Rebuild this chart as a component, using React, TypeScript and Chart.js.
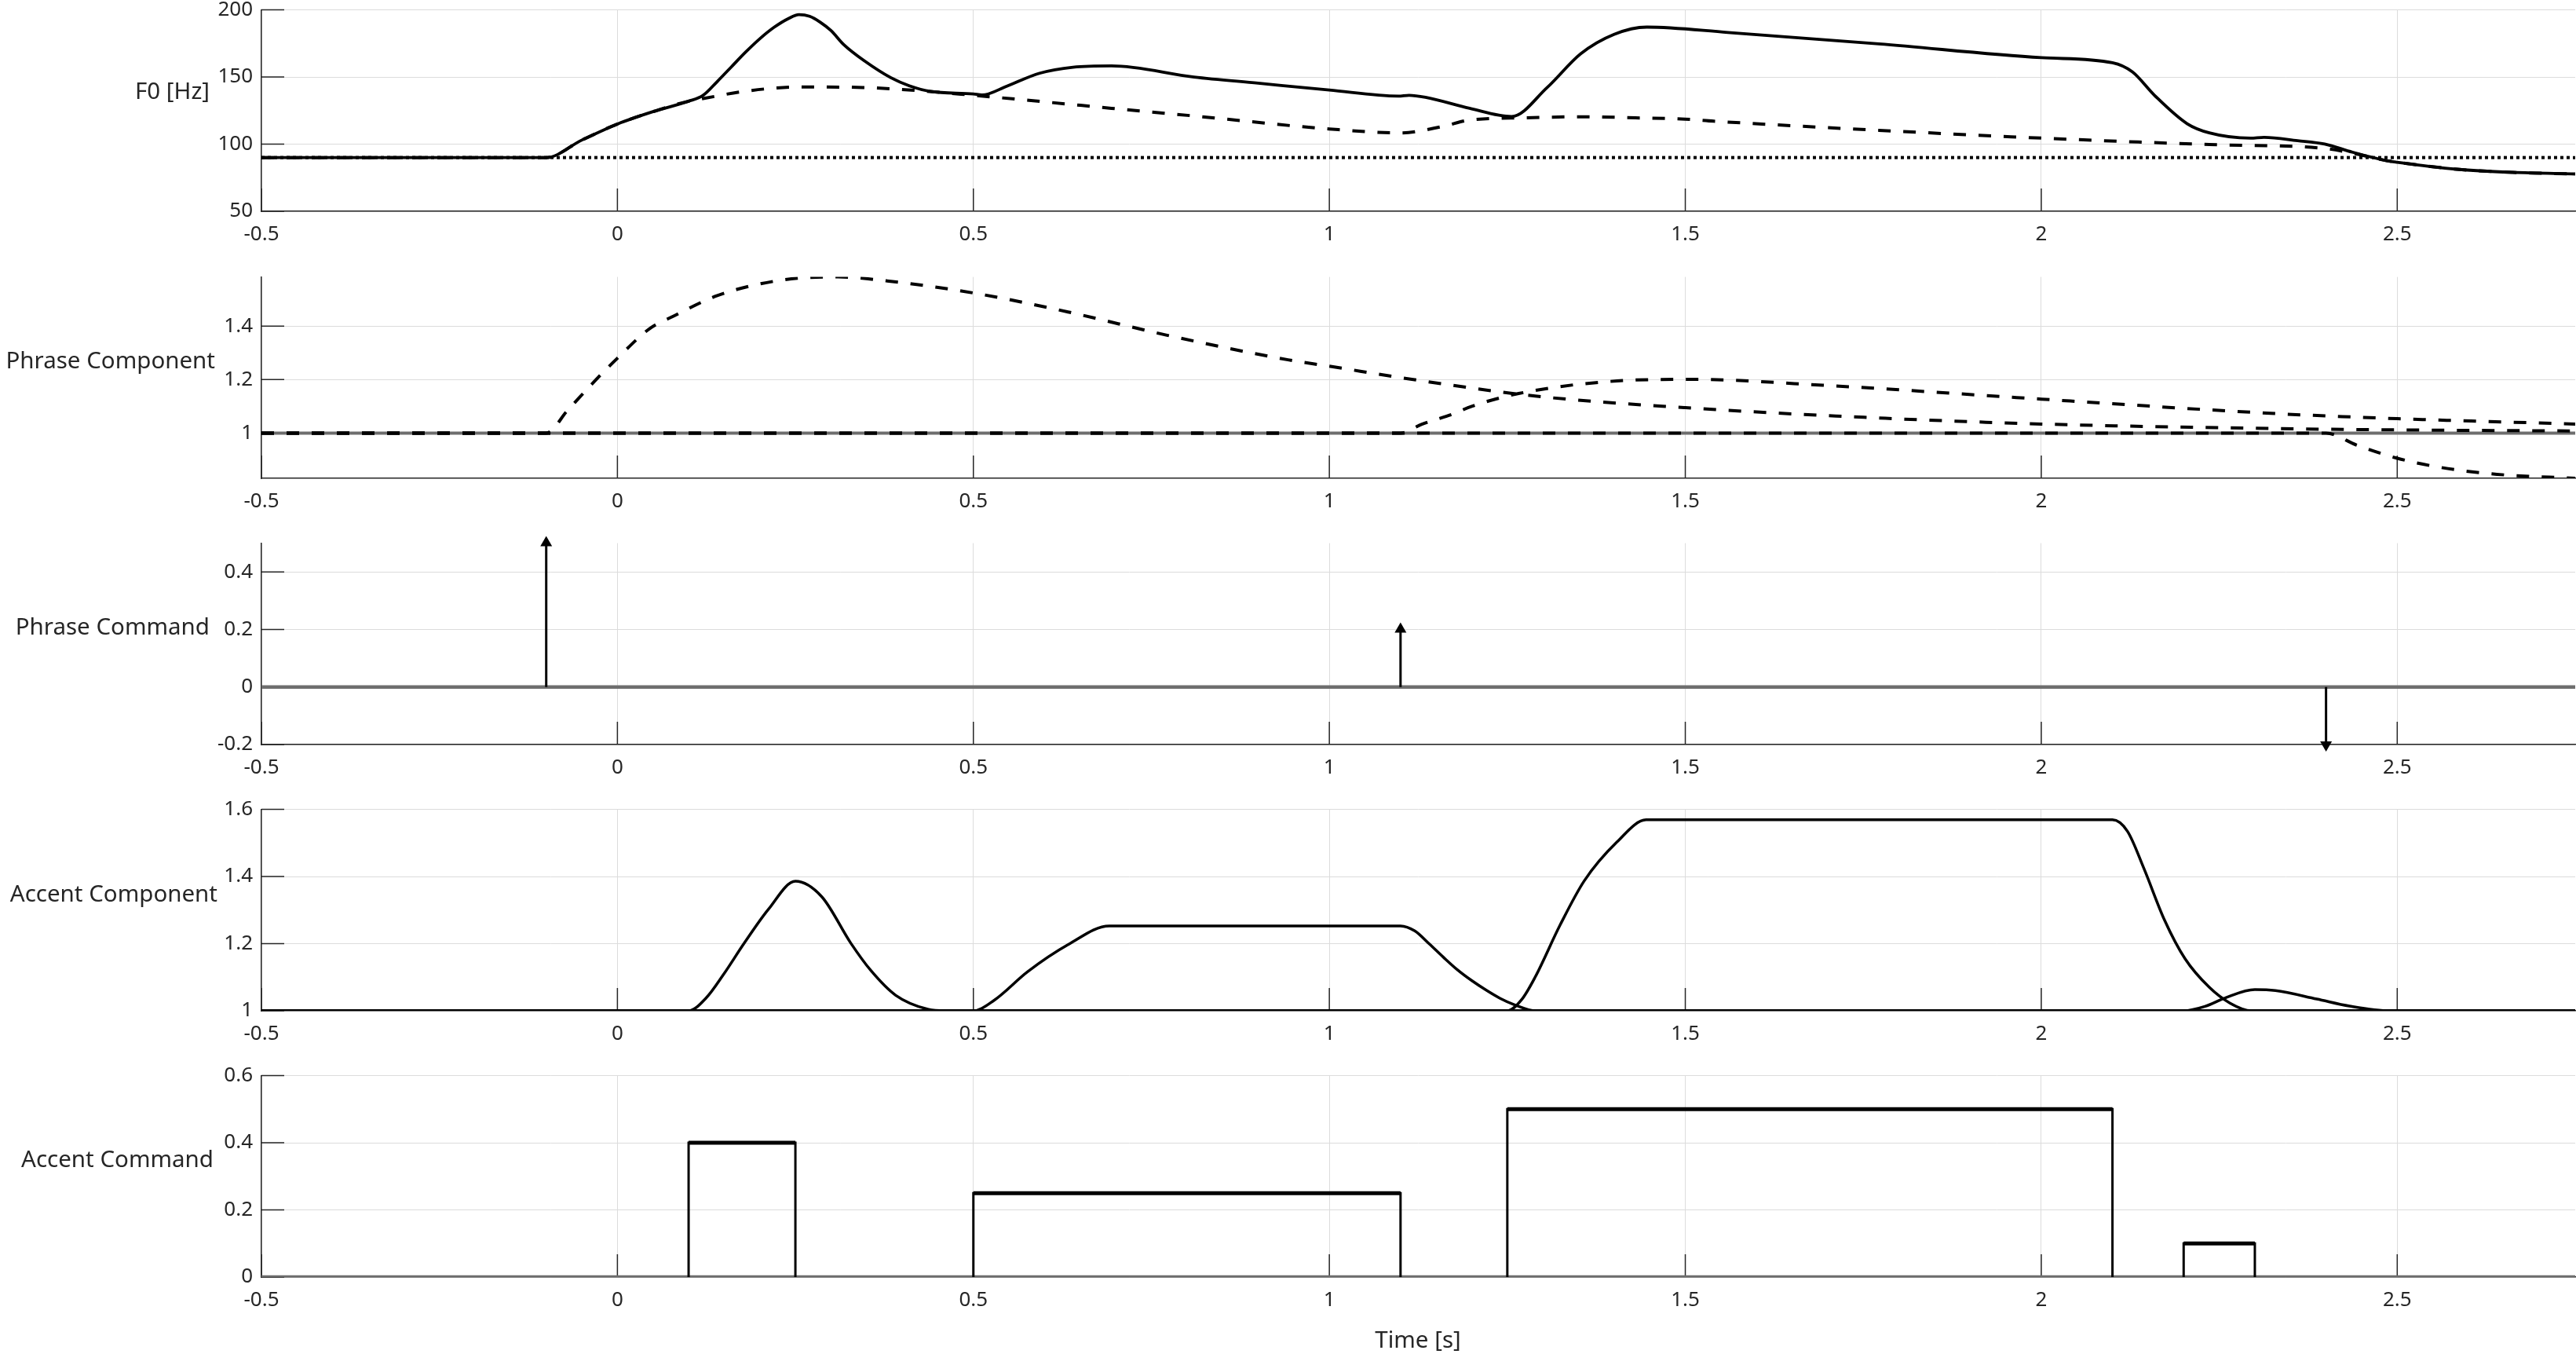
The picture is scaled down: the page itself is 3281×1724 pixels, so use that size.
import React, { useEffect, useRef } from 'react';
import { Chart, registerables } from 'chart.js';

// Register all Chart.js components
Chart.register(...registerables);

const PAGE_W = 3281;
const PLOT_LEFT = 333;
const PLOT_H = 259;
const PAD_TOP = 24;
const X_AXIS_H = 60;
const FONT = '"Noto Sans", "DejaVu Sans", sans-serif';
const TEXT = '#262626';
const GRID = '#dcdcdc';
const BASE_GRAY = '#6e6e6e';

// time axis
const X_MIN = -0.5;
const X_MAX = 2.75;
const xTicks = [-0.5, 0, 0.5, 1, 1.5, 2, 2.5];

// ---- F0 panel ----
const f0Ticks = [50, 100, 150, 200];
const f0Times = [
  -0.5, -0.1, -0.05, 0, 0.05, 0.1, 0.12, 0.14, 0.16, 0.18,
  0.2, 0.22, 0.24, 0.255, 0.27, 0.285, 0.3, 0.318, 0.347, 0.384,
  0.41, 0.44, 0.5, 0.512, 0.547, 0.593, 0.64, 0.694, 0.81, 0.9,
  1.0, 1.097, 1.112, 1.135, 1.197, 1.256, 1.306, 1.353, 1.4, 1.446,
  1.56, 1.772, 2.0, 2.1, 2.128, 2.159, 2.205, 2.236, 2.294, 2.313,
  2.36, 2.398, 2.437, 2.484, 2.5, 2.584, 2.662, 2.75,
];
const f0Values = [
  90, 90, 103, 115, 124.2, 132, 136.2, 146.5, 157.5, 168.5,
  178.5, 187, 193.5, 196.5, 195.2, 190.8, 184.6, 174.1, 162, 149.5,
  143.5, 139.3, 137.4, 136.6, 143.2, 152.8, 157.3, 158.3, 150, 145.4,
  140.3, 135.8, 136.4, 134.9, 126.7, 120.6, 142.2, 167.3, 181.8, 187.2,
  183.2, 174.7, 164.4, 160.6, 153.8, 136.4, 115.2, 108.4, 104.5, 105.1,
  102.6, 100.1, 94, 87.8, 86.5, 81.3, 79, 77.8,
];
const phraseF0Times = [
  -0.5, -0.1, -0.05, 0, 0.05, 0.1, 0.116, 0.178, 0.256, 0.345,
  0.422, 0.5, 0.578, 0.694, 0.81, 1.0, 1.1, 1.159, 1.197, 1.275,
  1.353, 1.43, 1.5, 1.54, 1.772, 2.0, 2.236, 2.398, 2.44, 2.484,
  2.5, 2.584, 2.662, 2.75,
];
const phraseF0Values = [
  90, 90, 103, 115, 124.2, 132, 133.5, 139.3, 142.6, 142.2,
  139.9, 136.4, 132.6, 126.7, 121, 111.3, 108.4, 113.2, 118, 119.6,
  120.4, 119.6, 118.6, 117.1, 110.3, 104.5, 99.7, 96.8, 93, 87.8,
  86.5, 81.3, 79, 77.8,
];
const baseF0Times = [-0.5, 2.75];
const baseF0Values = [90, 90];

// ---- Phrase component panel ----
const phraseCompTicks = [1, 1.2, 1.4];
const phrase1Times = [
  -0.5, -0.1, -0.07, -0.03, 0, 0.045, 0.08, 0.137, 0.195, 0.253,
  0.31, 0.379, 0.5, 0.633, 0.772, 0.942, 1.0, 1.116, 1.289, 1.5,
  1.751, 2.0, 2.329, 2.5, 2.75,
];
const phrase1Values = [
  1, 1, 1.085, 1.2, 1.28, 1.39, 1.439, 1.511, 1.555, 1.579,
  1.584, 1.569, 1.524, 1.453, 1.366, 1.274, 1.25, 1.201, 1.1385, 1.095,
  1.059, 1.034, 1.017, 1.012, 1.008,
];
const phrase2Times = [-0.5, 1.1, 1.13, 1.173, 1.2, 1.266, 1.404, 1.508, 1.693, 2.0, 2.329, 2.5, 2.75];
const phrase2Values = [1, 1, 1.033, 1.071, 1.1, 1.148, 1.195, 1.201, 1.179, 1.127, 1.073, 1.054, 1.034];
const phrase3Times = [-0.5, 2.4, 2.444, 2.5, 2.56, 2.64, 2.75];
const phrase3Values = [1, 1, 0.954, 0.906, 0.872, 0.846, 0.831];

// ---- Phrase command panel ----
const phraseCmdTicks = [-0.2, 0, 0.2, 0.4];
const phraseCmdTimes = [-0.1, 1.1, 2.4];
const phraseCmdAmps = [0.5, 0.2, -0.2];

// ---- Accent component panel ----
const accentCompTicks = [1, 1.2, 1.4, 1.6];
const accent1Times = [-0.5, 0.1, 0.125, 0.149, 0.178, 0.212, 0.25, 0.287, 0.328, 0.356, 0.391, 0.437, 0.46, 2.75];
const accent1Values = [1, 1, 1.039, 1.108, 1.201, 1.302, 1.386, 1.34, 1.201, 1.12, 1.046, 1.004, 1, 1];
const accent2Times = [-0.5, 0.5, 0.529, 0.576, 0.633, 0.691, 1.1, 1.12, 1.14, 1.16, 1.18, 1.2, 1.22, 1.24, 1.26, 1.29, 2.75];
const accent2Values = [1, 1, 1.031, 1.116, 1.197, 1.253, 1.253, 1.238, 1.2, 1.16, 1.122, 1.09, 1.062, 1.037, 1.018, 1, 1];
const accent3Times = [-0.5, 1.25, 1.27, 1.289, 1.324, 1.358, 1.404, 1.445, 2.1, 2.121, 2.144, 2.173, 2.202, 2.236, 2.265, 2.295, 2.75];
const accent3Values = [1, 1, 1.033, 1.1, 1.255, 1.387, 1.503, 1.569, 1.569, 1.535, 1.425, 1.271, 1.155, 1.07, 1.023, 1, 1];
const accent4Times = [-0.5, 2.2, 2.23, 2.259, 2.3, 2.329, 2.387, 2.433, 2.49, 2.75];
const accent4Values = [1, 1, 1.013, 1.039, 1.063, 1.06, 1.035, 1.014, 1, 1];

// ---- Accent command panel ----
const accentCmdTicks = [0, 0.2, 0.4, 0.6];
const accentOn = [0.1, 0.5, 1.25, 2.2];
const accentOff = [0.25, 1.1, 2.1, 2.3];
const accentAmp = [0.4, 0.25, 0.5, 0.1];

const pts = (ts: number[], vs: number[]) => ts.map((t, i) => ({ x: t, y: vs[i] }));

const curve = (data: any[], extra: any = {}) => ({
  data,
  borderColor: '#000',
  borderWidth: 3.5,
  pointRadius: 0,
  fill: false,
  cubicInterpolationMode: 'monotone',
  ...extra,
});

const straight = (data: any[], extra: any = {}) => ({
  data,
  borderColor: '#000',
  borderWidth: 3.5,
  pointRadius: 0,
  fill: false,
  tension: 0,
  ...extra,
});

const fmt = (v: any) => String(Math.round(Number(v) * 1000) / 1000);

// tick marks drawn inward like MATLAB
const inwardTicks = {
  id: 'inwardTicks',
  beforeDatasetsDraw(chart: any) {
    const { ctx, chartArea, scales } = chart;
    ctx.save();
    ctx.strokeStyle = TEXT;
    ctx.lineWidth = 1.5;
    ctx.beginPath();
    scales.x.ticks.forEach((t: any) => {
      const px = scales.x.getPixelForValue(t.value);
      ctx.moveTo(px, chartArea.bottom);
      ctx.lineTo(px, chartArea.bottom - 29);
    });
    scales.y.ticks.forEach((t: any) => {
      const py = scales.y.getPixelForValue(t.value);
      ctx.moveTo(chartArea.left, py);
      ctx.lineTo(chartArea.left + 29, py);
    });
    ctx.stroke();
    ctx.restore();
  },
};

// arrow heads for the phrase commands
const arrowHeads = {
  id: 'arrowHeads',
  afterDatasetsDraw(chart: any) {
    const { ctx, scales } = chart;
    ctx.save();
    ctx.fillStyle = '#000';
    phraseCmdTimes.forEach((t, i) => {
      const a = phraseCmdAmps[i];
      const dir = a >= 0 ? -1 : 1;
      const px = scales.x.getPixelForValue(t);
      const py = scales.y.getPixelForValue(a);
      ctx.beginPath();
      ctx.moveTo(px, py + dir * 9);
      ctx.lineTo(px - 7.5, py - dir * 4);
      ctx.lineTo(px + 7.5, py - dir * 4);
      ctx.closePath();
      ctx.fill();
    });
    ctx.restore();
  },
};

interface PanelProps {
  top: number;
  label: string;
  labelRight: number;
  labelCenter: number;
  datasets: any[];
  yMin: number;
  yMax: number;
  yTicks: number[];
  extraPlugins?: any[];
}

const Panel: React.FC<PanelProps> = ({ top, label, labelRight, labelCenter, datasets, yMin, yMax, yTicks, extraPlugins = [] }) => {
  const chartRef = useRef<HTMLCanvasElement>(null);
  const h = PAD_TOP + PLOT_H + X_AXIS_H;

  useEffect(() => {
    if (!chartRef.current) return;
    const tickFont = { family: FONT, size: 26 };
    const chart = new Chart(chartRef.current, {
      type: 'line',
      data: { datasets },
      options: {
        animation: false,
        responsive: false,
        maintainAspectRatio: false,
        layout: { padding: { top: PAD_TOP, right: 1, bottom: 0, left: 0 } },
        plugins: { legend: { display: false }, tooltip: { enabled: false } },
        scales: {
          x: {
            type: 'linear',
            min: X_MIN,
            max: X_MAX,
            afterBuildTicks: (s: any) => { s.ticks = xTicks.map((v) => ({ value: v })); },
            afterFit: (s: any) => { s.height = X_AXIS_H; },
            grid: { color: GRID, lineWidth: 1, drawTicks: false },
            border: { color: TEXT, width: 1.5 },
            ticks: { font: tickFont, color: TEXT, padding: 14, maxRotation: 0, autoSkip: false, callback: fmt },
          },
          y: {
            type: 'linear',
            min: yMin,
            max: yMax,
            afterBuildTicks: (s: any) => { s.ticks = yTicks.map((v) => ({ value: v })); },
            afterFit: (s: any) => { s.width = PLOT_LEFT; },
            grid: { color: GRID, lineWidth: 1, drawTicks: false },
            border: { color: TEXT, width: 1.5 },
            ticks: { font: tickFont, color: TEXT, padding: 11, autoSkip: false, callback: fmt },
          },
        },
      } as any,
      plugins: [inwardTicks, ...extraPlugins],
    });
    return () => chart.destroy();
  }, []);

  return (
    <>
      <canvas
        ref={chartRef}
        width={PAGE_W}
        height={h}
        style={{ position: 'absolute', left: 0, top: top - PAD_TOP, width: PAGE_W, height: h }}
      />
      <div
        style={{
          position: 'absolute',
          right: PAGE_W - labelRight,
          top: labelCenter - 18,
          font: `29.5px ${FONT}`,
          lineHeight: '36px',
          color: TEXT,
          whiteSpace: 'nowrap',
        }}
      >
        {label}
      </div>
    </>
  );
};

const App: React.FC = () => {
  useEffect(() => {
    document.body.style.overflow = 'hidden';
  }, []);

  const phraseAll = [...phrase1Values, ...phrase2Values, ...phrase3Values];

  const f0Sets = [
    curve(pts(f0Times, f0Values), { borderWidth: 3.8, order: 0 }),
    curve(pts(phraseF0Times, phraseF0Values), { borderDash: [16, 16], borderWidth: 4, order: 1 }),
    straight(pts(baseF0Times, baseF0Values), { borderDash: [4, 4], borderWidth: 4, order: 2 }),
  ];

  const phraseCompSets = [
    curve(pts(phrase1Times, phrase1Values), { borderDash: [16, 16], borderWidth: 4, order: 0 }),
    curve(pts(phrase2Times, phrase2Values), { borderDash: [16, 16], borderWidth: 4, order: 0 }),
    curve(pts(phrase3Times, phrase3Values), { borderDash: [16, 16], borderWidth: 4, order: 0 }),
    straight(pts([X_MIN, X_MAX], [1, 1]), { borderColor: BASE_GRAY, borderWidth: 4, order: 5 }),
  ];

  const phraseCmdSets = [
    ...phraseCmdTimes.map((t, i) => straight(pts([t, t], [0, phraseCmdAmps[i]]), { borderWidth: 3, order: 0 })),
    straight(pts([X_MIN, X_MAX], [0, 0]), { borderColor: BASE_GRAY, borderWidth: 4.5, order: 5 }),
  ];

  const accentCompSets = [
    curve(pts(accent1Times, accent1Values)),
    curve(pts(accent2Times, accent2Values)),
    curve(pts(accent3Times, accent3Values)),
    curve(pts(accent4Times, accent4Values)),
  ];

  const accentCmdSets = [
    ...accentOn.map((on, i) =>
      straight(pts([on, on, accentOff[i], accentOff[i]], [0, accentAmp[i], accentAmp[i], 0]), { borderWidth: 3, order: 0 })
    ),
    ...accentOn.map((on, i) =>
      straight(pts([on, accentOff[i]], [accentAmp[i], accentAmp[i]]), { borderWidth: 5, order: 0 })
    ),
    straight(pts([X_MIN, X_MAX], [0, 0]), { borderColor: BASE_GRAY, borderWidth: 4.5, order: 5 }),
  ];

  return (
    <div style={{ position: 'absolute', left: 0, top: 0, width: PAGE_W, height: 1724, background: '#fff', overflow: 'hidden' }}>
      <Panel top={10} label="F0 [Hz]" labelRight={267} labelCenter={115} datasets={f0Sets} yMin={50} yMax={200} yTicks={f0Ticks} />
      <Panel
        top={350}
        label="Phrase Component"
        labelRight={274}
        labelCenter={458}
        datasets={phraseCompSets}
        yMin={Math.min(...phraseAll)}
        yMax={Math.max(...phraseAll)}
        yTicks={phraseCompTicks}
      />
      <Panel
        top={689}
        label="Phrase Command"
        labelRight={267}
        labelCenter={797}
        datasets={phraseCmdSets}
        yMin={-0.2}
        yMax={0.5}
        yTicks={phraseCmdTicks}
        extraPlugins={[arrowHeads]}
      />
      <Panel top={1028} label="Accent Component" labelRight={277} labelCenter={1137} datasets={accentCompSets} yMin={1} yMax={1.6} yTicks={accentCompTicks} />
      <Panel top={1367} label="Accent Command" labelRight={272} labelCenter={1475} datasets={accentCmdSets} yMin={0} yMax={0.6} yTicks={accentCmdTicks} />
      <div
        style={{
          position: 'absolute',
          left: 1806,
          top: 1705 - 18,
          transform: 'translateX(-50%)',
          font: `29.5px ${FONT}`,
          lineHeight: '36px',
          color: TEXT,
          whiteSpace: 'nowrap',
        }}
      >
        Time [s]
      </div>
    </div>
  );
};

export default App;
